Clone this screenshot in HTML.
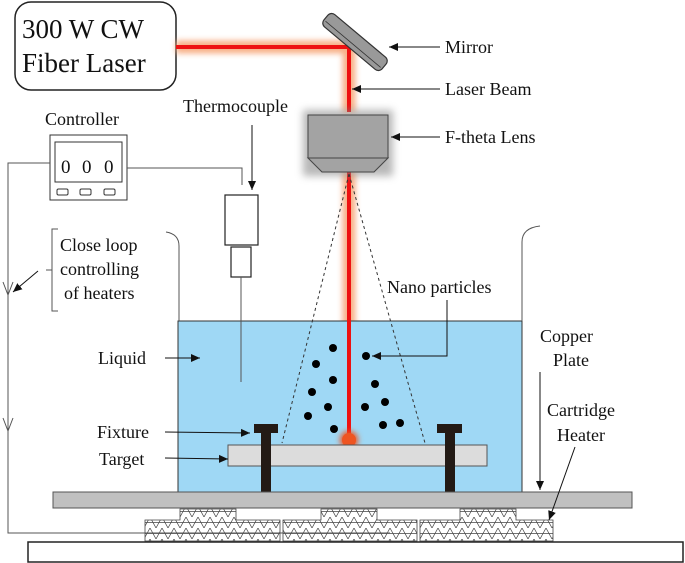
<!DOCTYPE html>
<html><head><meta charset="utf-8"><style>
html,body{margin:0;padding:0;background:#fff;}
svg{display:block;}
text{font-family:"Liberation Serif",serif;fill:#111;}
</style></head><body>
<svg width="685" height="563" viewBox="0 0 685 563" xmlns="http://www.w3.org/2000/svg">
<defs>
<marker id="a" markerWidth="10" markerHeight="10" refX="9" refY="5" orient="auto" markerUnits="userSpaceOnUse"><path d="M0,1 L9,5 L0,9 Z" fill="#111"/></marker>
<filter id="b" x="-50%" y="-50%" width="200%" height="200%"><feGaussianBlur stdDeviation="3"/></filter>
<filter id="s" x="-30%" y="-30%" width="160%" height="160%"><feGaussianBlur stdDeviation="4"/></filter>
<pattern id="h" width="12" height="11" patternUnits="userSpaceOnUse"><path d="M0,11 L6,0 L12,11 M0,5.5 L12,5.5" fill="none" stroke="#444" stroke-width="0.7"/></pattern>
</defs>
<rect x="15" y="2" width="161" height="88" rx="16" fill="#fff" stroke="#222" stroke-width="1.5"/>
<text x="22" y="38" font-size="27">300 W CW</text>
<text x="22" y="72" font-size="27">Fiber Laser</text>
<g filter="url(#b)" stroke="#f7a77a" stroke-width="13" fill="none" opacity="0.9">
<path d="M176,47 L349,47 L349,112"/>
<path d="M349,172 L349,440"/>
</g>
<path d="M176,47 L349,47 L349,112" stroke="#ee1111" stroke-width="4" fill="none"/>
<path d="M349,172 L349,440" stroke="#ee1111" stroke-width="4" fill="none"/>
<g transform="translate(355,42) rotate(40)">
<rect x="-38" y="-8" width="76" height="16" rx="5" fill="#999" stroke="#333" stroke-width="1.2"/>
<line x1="-36" y1="3" x2="36" y2="3" stroke="#333" stroke-width="0.8"/>
</g>
<line x1="440" y1="47" x2="389" y2="47" stroke="#111" marker-end="url(#a)"/>
<text x="445" y="53" font-size="18">Mirror</text>
<line x1="440" y1="89" x2="352" y2="89" stroke="#111" marker-end="url(#a)"/>
<text x="445" y="95" font-size="18">Laser Beam</text>
<rect x="303" y="110" width="90" height="66" fill="#888" filter="url(#s)" opacity="0.6"/>
<rect x="308" y="115" width="80" height="43" fill="#a3a3a3" stroke="#444"/>
<path d="M308,158 L388,158 L374,172 L322,172 Z" fill="#a3a3a3" stroke="#444"/>
<line x1="440" y1="137" x2="391" y2="137" stroke="#111" marker-end="url(#a)"/>
<text x="445" y="143" font-size="18">F-theta Lens</text>
<rect x="178" y="321" width="344" height="172" fill="#9fd8f5" stroke="#333" stroke-width="1"/>
<path d="M166,232 Q179,234 179,246 L179,321" fill="none" stroke="#555"/>
<path d="M540,226 Q522,228 522,242 L522,321" fill="none" stroke="#555"/>
<line x1="349" y1="174" x2="282" y2="443" stroke="#333" stroke-dasharray="3,3"/>
<line x1="349" y1="174" x2="425" y2="443" stroke="#333" stroke-dasharray="3,3"/>
<path d="M349,320 L349,435" stroke="#c8a080" stroke-width="12" opacity="0.7" filter="url(#b)"/>
<path d="M349,320 L349,435" stroke="#ee1111" stroke-width="4"/>
<circle cx="349" cy="440" r="9" fill="#ee5522" filter="url(#b)"/>
<circle cx="349" cy="440" r="7" fill="#ee5522"/>
<g fill="#000">
<circle cx="333" cy="348" r="4"/><circle cx="366" cy="356" r="4"/><circle cx="316" cy="364" r="4"/>
<circle cx="333" cy="380" r="4"/><circle cx="312" cy="392" r="4"/><circle cx="375" cy="384" r="4"/>
<circle cx="328" cy="407" r="4"/><circle cx="385" cy="402" r="4"/><circle cx="365" cy="407" r="4"/>
<circle cx="308" cy="416" r="4"/><circle cx="383" cy="425" r="4"/><circle cx="400" cy="423" r="4"/>
<circle cx="334" cy="429" r="4"/>
</g>
<polyline points="447,300 447,356 372,356" fill="none" stroke="#111" marker-end="url(#a)"/>
<text x="387" y="293" font-size="18">Nano particles</text>
<rect x="228" y="445" width="259" height="21" fill="#dcdcdc" stroke="#555"/>
<rect x="254" y="424" width="24" height="9" fill="#231a15"/>
<rect x="261" y="433" width="10" height="60" fill="#231a15"/>
<rect x="437" y="424" width="25" height="9" fill="#231a15"/>
<rect x="445" y="433" width="10" height="60" fill="#231a15"/>
<rect x="53" y="492" width="579" height="16" fill="#c0c0c0" stroke="#555"/>
<g fill="url(#h)" stroke="#444" stroke-width="0.8">
<path d="M145,520 L180,520 L180,509 L236,509 L236,520 L280,520 L280,541 L145,541 Z"/>
<path d="M283,520 L321,520 L321,509 L377,509 L377,520 L417,520 L417,541 L283,541 Z"/>
<path d="M420,520 L460,520 L460,509 L516,509 L516,520 L553,520 L553,541 L420,541 Z"/>
</g>
<rect x="28" y="542" width="655" height="20" fill="#fff" stroke="#222" stroke-width="1.5"/>
<text x="45" y="125" font-size="18">Controller</text>
<rect x="50" y="135" width="77" height="65" fill="#fff" stroke="#333"/>
<rect x="55" y="142" width="67" height="40" fill="#fff" stroke="#333"/>
<text x="61" y="173" font-size="19">0</text><text x="82" y="173" font-size="19">0</text><text x="104" y="173" font-size="19">0</text>
<rect x="57" y="189" width="11" height="6" rx="1.5" fill="#fff" stroke="#333"/>
<rect x="80" y="189" width="11" height="6" rx="1.5" fill="#fff" stroke="#333"/>
<rect x="104" y="189" width="11" height="6" rx="1.5" fill="#fff" stroke="#333"/>
<polyline points="50,163 8,163 8,533 390,533" fill="none" stroke="#555"/>
<path d="M3,282 L8,295 L13,282 M3,418 L8,431 L13,418" fill="none" stroke="#555"/>
<polyline points="127,168 242,168 242,185" fill="none" stroke="#555"/>
<text x="183" y="112" font-size="18">Thermocouple</text>
<line x1="252" y1="125" x2="252" y2="190" stroke="#111" marker-end="url(#a)"/>
<rect x="225" y="195" width="33" height="50" fill="#fff" stroke="#222" stroke-width="1.2"/>
<rect x="231" y="247" width="20" height="30" fill="#fff" stroke="#222" stroke-width="1.2"/>
<line x1="241" y1="277" x2="241" y2="382" stroke="#555"/>
<path d="M58,229 L52,229 L52,311 L58,311 M52,270 L46,270" fill="none" stroke="#555"/>
<text x="60" y="251" font-size="18">Close loop</text>
<text x="60" y="275" font-size="18">controlling</text>
<text x="64" y="299" font-size="18">of heaters</text>
<line x1="38" y1="271" x2="13" y2="292" stroke="#111" marker-end="url(#a)"/>
<text x="98" y="364" font-size="18">Liquid</text>
<line x1="165" y1="358" x2="200" y2="358" stroke="#111" marker-end="url(#a)"/>
<text x="97" y="438" font-size="18">Fixture</text>
<line x1="165" y1="432" x2="250" y2="433" stroke="#111" marker-end="url(#a)"/>
<text x="99" y="465" font-size="18">Target</text>
<line x1="165" y1="458" x2="228" y2="459" stroke="#111" marker-end="url(#a)"/>
<text x="540" y="342" font-size="18">Copper</text>
<text x="553" y="366" font-size="18">Plate</text>
<line x1="540" y1="372" x2="540" y2="490" stroke="#111" marker-end="url(#a)"/>
<text x="547" y="416" font-size="18">Cartridge</text>
<text x="557" y="441" font-size="18">Heater</text>
<line x1="575" y1="447" x2="549" y2="520" stroke="#111" marker-end="url(#a)"/>
</svg>
</body></html>
